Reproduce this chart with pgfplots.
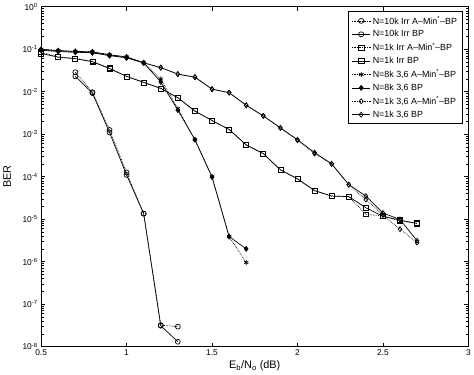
\documentclass[border=0pt]{standalone}
\usepackage{fontspec}
\setmainfont{Liberation Sans}
\usepackage{pgfplots}
\pgfplotsset{compat=1.18}
\begin{document}
\begin{tikzpicture}[x=1bp,y=1bp]
\begin{axis}[
  width=430bp, height=342bp, scale only axis,
  ymode=log, xmin=0.5, xmax=3, ymin=1e-8, ymax=1,
  xtick={0.5,1,1.5,2,2.5,3},
  xticklabels={0.5,1,1.5,2,2.5,3},
  ytick={1e-8,1e-7,1e-6,1e-5,1e-4,1e-3,1e-2,1e-1,1},
  yticklabels={10\textsuperscript{-8},10\textsuperscript{-7},10\textsuperscript{-6},10\textsuperscript{-5},10\textsuperscript{-4},10\textsuperscript{-3},10\textsuperscript{-2},10\textsuperscript{-1},10\textsuperscript{0}},
  tick label style={font=\fontsize{8.5}{9}\selectfont},
  tick align=inside, tick style={black, line width=0.6pt},
  major tick length=4bp, minor tick length=2.5bp,
  axis line style={line width=1pt},
  xlabel={E\textsubscript{b}/N\textsubscript{o} (dB)},
  ylabel={BER},
  label style={font=\fontsize{11}{13}\selectfont},
  xlabel style={yshift=2bp},
  ylabel style={yshift=5bp},
  legend style={at={(rel axis cs:0.986,0.988)}, anchor=north east,
    font=\fontsize{9}{10}\selectfont, draw=black, line width=0.8pt,
    row sep=0.8pt, inner sep=3pt},
  legend cell align=left,
  legend image post style={xscale=1.1},
  every axis plot/.append style={black, line width=0.7pt, mark size=2.5pt, mark options={solid, fill=white, line width=0.7pt}},
]
% N=10k Irr A-Min*-BP (dotted, circle)
\addplot[densely dotted, mark=o] coordinates {
 (0.7,0.0288) (0.8,0.0098) (0.9,1.26e-3) (1.0,1.26e-4) (1.1,1.35e-5) (1.2,3.2e-8) (1.3,2.95e-8)};
\addlegendentry{N=10k Irr A--Min\textsuperscript{*}--BP}
% N=10k Irr BP (solid, circle)
\addplot[solid, mark=o] coordinates {
 (0.7,0.023) (0.8,0.0093) (0.9,1.1e-3) (1.0,1.1e-4) (1.1,1.35e-5) (1.2,3.1e-8) (1.3,1.3e-8)};
\addlegendentry{N=10k Irr BP}
% N=1k Irr A-Min*-BP (dotted, square)
\addplot[densely dotted, mark=square] coordinates {
 (0.5,0.085) (0.6,0.066) (0.7,0.061) (0.8,0.052) (0.9,0.036) (1.0,0.023) (1.1,0.0166) (1.2,0.0120)
 (1.3,0.0072) (1.4,0.0035) (1.5,0.0021) (1.6,0.00129) (1.7,5.6e-4) (1.8,3.5e-4) (1.9,1.45e-4)
 (2.0,8.9e-5) (2.1,4.7e-5) (2.2,3.5e-5) (2.3,3.4e-5) (2.4,1.3e-5) (2.5,1.2e-5) (2.6,9.0e-6) (2.7,8.0e-6)};
\addlegendentry{N=1k Irr A--Min\textsuperscript{*}--BP}
% N=1k Irr BP (solid, square)
\addplot[solid, mark=square] coordinates {
 (0.5,0.080) (0.6,0.065) (0.7,0.060) (0.8,0.051) (0.9,0.035) (1.0,0.023) (1.1,0.0166) (1.2,0.0120)
 (1.3,0.0072) (1.4,0.0035) (1.5,0.0021) (1.6,0.00129) (1.7,5.6e-4) (1.8,3.5e-4) (1.9,1.45e-4)
 (2.0,8.9e-5) (2.1,4.7e-5) (2.2,3.5e-5) (2.3,3.4e-5) (2.4,1.86e-5) (2.5,1.17e-5) (2.6,9.5e-6) (2.7,7.9e-6)};
\addlegendentry{N=1k Irr BP}
% N=8k 3,6 A-Min*-BP (dotted, star)
\addplot[densely dotted, mark=asterisk] coordinates {
 (0.5,0.100) (0.6,0.093) (0.7,0.089) (0.8,0.087) (0.9,0.074) (1.0,0.066) (1.1,0.048) (1.2,0.020)
 (1.3,0.0040) (1.4,7.4e-4) (1.5,1.0e-4) (1.6,3.9e-6) (1.7,9.5e-7)};
\addlegendentry{N=8k 3,6 A--Min\textsuperscript{*}--BP}
% N=8k 3,6 BP (solid, filled diamond)
\addplot[solid, mark=diamond*, mark options={fill=black}] coordinates {
 (0.5,0.100) (0.6,0.093) (0.7,0.089) (0.8,0.087) (0.9,0.074) (1.0,0.066) (1.1,0.048) (1.2,0.017)
 (1.3,0.0037) (1.4,7.4e-4) (1.5,9.8e-5) (1.6,3.9e-6) (1.7,2.0e-6)};
\addlegendentry{N=8k 3,6 BP}
% N=1k 3,6 A-Min*-BP (dotted, diamond)
\addplot[densely dotted, mark=diamond] coordinates {
 (0.5,0.095) (0.6,0.089) (0.7,0.085) (0.8,0.083) (0.9,0.071) (1.0,0.063) (1.1,0.048) (1.2,0.037)
 (1.3,0.026) (1.4,0.022) (1.5,0.0115) (1.6,0.0095) (1.7,0.0048) (1.8,0.0027) (1.9,0.00141)
 (2.0,7.2e-4) (2.1,3.5e-4) (2.2,2.0e-4) (2.3,6.5e-5) (2.4,2.9e-5) (2.5,1.25e-5) (2.6,5.8e-6) (2.7,2.8e-6)};
\addlegendentry{N=1k 3,6 A--Min\textsuperscript{*}--BP}
% N=1k 3,6 BP (solid, diamond)
\addplot[solid, mark=diamond] coordinates {
 (0.5,0.095) (0.6,0.089) (0.7,0.085) (0.8,0.083) (0.9,0.071) (1.0,0.063) (1.1,0.048) (1.2,0.037)
 (1.3,0.026) (1.4,0.022) (1.5,0.0115) (1.6,0.0095) (1.7,0.0048) (1.8,0.0027) (1.9,0.00141)
 (2.0,7.4e-4) (2.1,3.7e-4) (2.2,2.0e-4) (2.3,6.5e-5) (2.4,3.5e-5) (2.5,1.4e-5) (2.6,9.8e-6) (2.7,3.1e-6)};
\addlegendentry{N=1k 3,6 BP}
\end{axis}
\end{tikzpicture}
\end{document}
